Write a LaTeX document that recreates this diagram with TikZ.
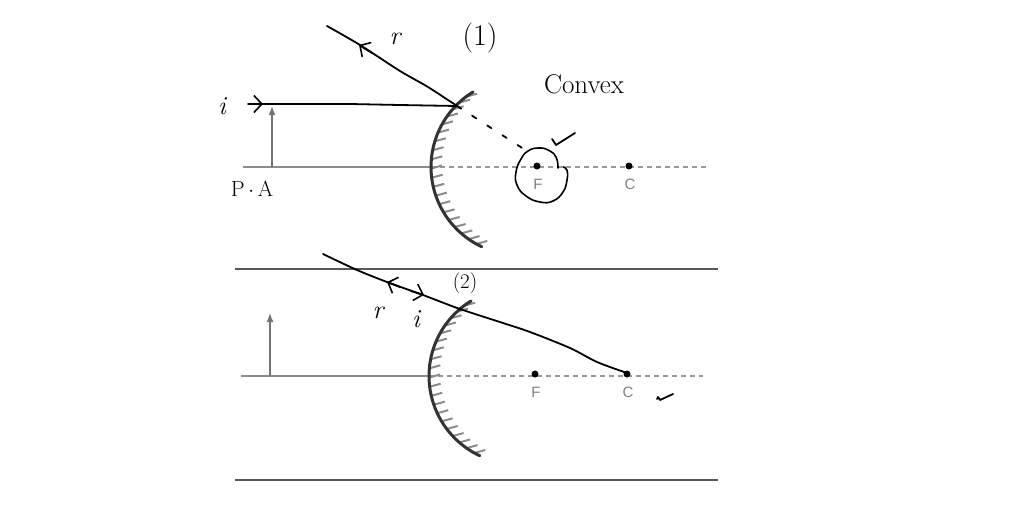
\documentclass[tikz,border=0pt]{standalone}
\usepackage{fontspec}
\usepackage{tikz}
\usetikzlibrary{arrows.meta}
\newfontfamily\printfont{Liberation Sans}

\tikzset{
	axisline/.style={color=black!45, line width=1.8pt},
	axisdots/.style={color=black!40, line width=1.8pt, dash pattern=on 5pt off 4pt},
	rule/.style={color=black!65, line width=2.2pt},
	ray/.style={color=black, line width=1.8pt, line join=round, line cap=round},
	barb/.style={ray, -{Straight Barb[length=8pt, width=17pt, line width=1.6pt]}},
	objarrow/.style={color=black!55, line width=1.6pt, -{Latex[length=9pt, width=7pt]}},
	dot/.style={circle, fill=black, inner sep=0pt, minimum size=7pt},
	printed/.style={color=black!50, font=\printfont\fontsize{15}{15}\selectfont, inner sep=0pt},
	hand/.style={color=black, font=\fontsize{27}{27}\selectfont, inner sep=0pt},
	handsmall/.style={color=black, font=\fontsize{21}{21}\selectfont, inner sep=0pt},
	handletter/.style={color=black, font=\itshape\fontsize{26}{26}\selectfont, inner sep=0pt},
	pics/mirror/.style={code={
		\foreach \a in {119,125,...,235}
			\draw[color=black!45, line width=2pt] (\a:88) -- ++(11,-3);
		\draw[color=black!80, line width=3pt, domain=115:238.5, samples=50, line cap=round]
			plot ({88*cos(\x)},{88*sin(\x)});
	}}
}

\begin{document}
\begin{tikzpicture}[x=1pt, y=-1pt]
	\useasboundingbox (0,0) rectangle (1024,512);

	% Rules between the cases
	\coordinate (ruleAl) at (235,269);
	\coordinate (ruleAr) at (718,269);
	\coordinate (ruleBl) at (235,480);
	\coordinate (ruleBr) at (718,480);
	\draw[rule] (ruleAl) -- (ruleAr);
	\draw[rule] (ruleBl) -- (ruleBr);

	%Case 1
	\coordinate (axisAl) at (243,167);
	\coordinate (vertexA) at (431,167);
	\coordinate (axisAr) at (707,167);
	\coordinate (footA) at (272,167);
	\coordinate (tipA) at (272,106);
	\draw[axisline] (axisAl) -- (vertexA);
	\draw[axisdots] (vertexA) -- (axisAr);
	\draw[objarrow] (footA) -- (tipA);
	\pic at (519,167) {mirror};
	\node[dot] (focusA) at (537,166) {};
	\node[dot] (centreA) at (629,166) {};
	\node[printed] (labelFA) at (538,184) {F};
	\node[printed] (labelCA) at (630,184) {C};

	% Rays
	\coordinate (hitA) at (457,106);
	\coordinate (startA) at (248,104);
	\coordinate (endA) at (327,26);
	\coordinate (dashA) at (530,153);
	\draw[ray] (startA) -- (350,104) -- (400,105) -- (hitA);
	\draw[ray] plot[smooth, tension=0.5] coordinates {(327,26) (360,45) (400,71) (428,87) (457,106)};
	\draw[ray, dash pattern=on 5pt off 13pt] (hitA) -- (dashA);
	\draw[barb] (250,104) -- (263,104);
	\draw[barb] (372,53) -- (359,45);

	% Circle round the focus
	\draw[ray, line width=1.6pt] plot[smooth, tension=0.8] coordinates {(558,168) (556,157) (548,150) (538,148) (528,151) (521,159) (516,172) (517,185) (526,196) (540,202) (553,201) (563,192) (567,180) (567,170) (563,167)};
	\draw[ray] (552,139) -- (556,145) -- (575,133);

	\node[handletter] (labelRA) at (395,39) {r};
	\node[hand, font=\fontsize{30}{30}\selectfont] (labelOne) at (480,38) {(1)};
	\node[hand] (labelConvex) at (584,84) {Convex};
	\node[handletter] (labelIA) at (222,106) {i};
	\node[handsmall, font=\fontsize{22}{22}\selectfont] (labelPA) at (252,189) {P\,$\cdot$\,A};

	%Case 2
	\coordinate (axisBl) at (241,376);
	\coordinate (vertexB) at (429,376);
	\coordinate (axisBr) at (703,376);
	\coordinate (footB) at (270,376);
	\coordinate (tipB) at (270,313);
	\draw[axisline] (axisBl) -- (vertexB);
	\draw[axisdots] (vertexB) -- (axisBr);
	\draw[objarrow] (footB) -- (tipB);
	\pic at (517,376) {mirror};
	\node[dot] (focusB) at (535,374) {};
	\node[dot] (centreB) at (627,374) {};
	\node[printed] (labelFB) at (536,392) {F};
	\node[printed] (labelCB) at (628,392) {C};

	% Ray
	\draw[ray] plot[smooth, tension=0.5] coordinates {(323,254) (357,270) (387,282) (423,295) (460,309) (503,323) (530,332) (570,348) (597,362) (627,373)};
	\draw[barb] (400,287) -- (387,282);
	\draw[barb] (411,291) -- (424,295);
	\draw[ray] (657,399) -- (658,397) -- (660,400) -- (673,394);

	\node[handsmall] (labelTwo) at (465,283) {(2)};
	\node[handletter] (labelRB) at (378,313) {r};
	\node[handletter] (labelIB) at (416,319) {i};
\end{tikzpicture}
\end{document}
